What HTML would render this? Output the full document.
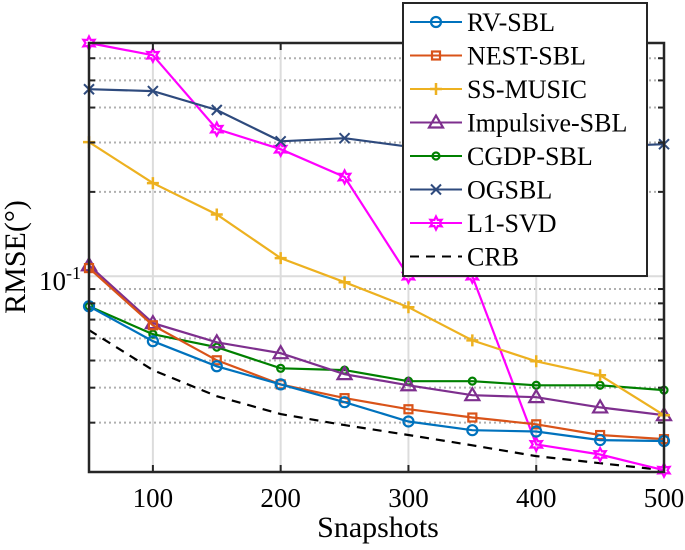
<!DOCTYPE html>
<html><head><meta charset="utf-8"><style>
html,body{margin:0;padding:0;background:#fff;}
svg{display:block;font-family:"Liberation Serif",serif;}
</style></head><body>
<svg id="chart" width="685" height="550" viewBox="0 0 685 550" xmlns="http://www.w3.org/2000/svg">
<g id="grid"></g>
<g id="series"></g>
<g id="axes"></g>
<text x="0" y="0" transform="translate(25,257) rotate(-90)" text-anchor="middle" font-size="30">RMSE(°)</text>
<text x="378" y="537" text-anchor="middle" font-size="30">Snapshots</text>
<g id="legend"></g>
</svg>
<script>
const snapshots=[50,100,150,200,250,300,350,400,450,500];
const rvSbl=[0.0781,0.0586,0.0477,0.0411,0.0355,0.0303,0.0282,0.0279,0.0260,0.0258];
const nestSbl=[0.1069,0.0668,0.0501,0.0411,0.0367,0.0335,0.0313,0.0296,0.0271,0.0262];
const ssMusic=[0.301,0.215,0.166,0.116,0.0952,0.0775,0.059,0.0497,0.0443,0.0319];
const impulsiveSbl=[0.1094,0.068,0.0581,0.0531,0.0447,0.0408,0.0376,0.037,0.034,0.0319];
const cgdpSbl=[0.0781,0.0621,0.0558,0.0469,0.0462,0.0422,0.0422,0.0408,0.0408,0.0392];
const ogsbl=[0.465,0.458,0.392,0.303,0.311,0.29,0.287,0.285,0.29,0.296];
const l1Svd=[0.68,0.615,0.335,0.284,0.226,0.1,0.1,0.0251,0.0231,0.0203];
const crb=[0.0642,0.0462,0.0373,0.0322,0.0294,0.0271,0.0249,0.0228,0.0215,0.0203];
const xTicks=[100,200,300,400,500];
const yMinor=[0.03,0.04,0.05,0.06,0.07,0.08,0.09,0.2,0.3,0.4,0.5,0.6];
const seriesNames=["RV-SBL","NEST-SBL","SS-MUSIC","Impulsive-SBL","CGDP-SBL","OGSBL","L1-SVD","CRB"];

const L=89,R=664,T=43,B=472,YMIN=0.02,YMAX=0.68;
const xs=v=>L+(v-50)/450*(R-L);
const ys=v=>B-(Math.log10(v)-Math.log10(YMIN))/(Math.log10(YMAX)-Math.log10(YMIN))*(B-T);
const NS="http://www.w3.org/2000/svg";
function mk(tag,attrs,parent){const e=document.createElementNS(NS,tag);for(const k in attrs)e.setAttribute(k,attrs[k]);parent.appendChild(e);return e;}
const grid=document.getElementById('grid'),axes=document.getElementById('axes'),ser=document.getElementById('series'),leg=document.getElementById('legend');

yMinor.forEach(v=>{const y=ys(v);
 const g=mk('line',{x1:L,x2:R,y1:y,y2:y,stroke:'#b0b0b0','stroke-width':2,'stroke-dasharray':'2,3'},grid);
 
 
 [[L,L+6],[R,R-6]].forEach(p=>{const t=mk('line',{x1:p[0],x2:p[1],y1:y,y2:y,stroke:'#262626','stroke-width':2},axes);
 
 });
});
{const y=ys(0.1);const g=mk('line',{x1:L,x2:R,y1:y,y2:y,stroke:'#dcdcdc','stroke-width':2},grid);
 
 
 const t=mk('text',{x:81,y:y+14,'text-anchor':'end','font-size':27},axes);t.textContent='10';
 
 
 const ts=mk('tspan',{dy:-11,'font-size':18},t);ts.textContent='-1';}
xTicks.forEach(v=>{const x=xs(v);
 const g=mk('line',{x1:x,x2:x,y1:T,y2:B,stroke:'#dcdcdc','stroke-width':2},grid);
 
 
 [[B,B-7],[T,T+7]].forEach(p=>{const t=mk('line',{x1:x,x2:x,y1:p[0],y2:p[1],stroke:'#262626','stroke-width':2},axes);
 
 });
 const t=mk('text',{x:x,y:507,'text-anchor':'middle','font-size':27},axes);t.textContent=v;
 
 
});
{const r=mk('rect',{x:L,y:T,width:R-L,height:B-T,fill:'none',stroke:'#262626','stroke-width':2.5},axes);
 
 }

function marker(type,x,y,c,g){
 if(type==='circle')return mk('circle',{cx:x,cy:y,r:5,fill:'none',stroke:c,'stroke-width':2.2},g);
 if(type==='square')return mk('rect',{x:x-4,y:y-4,width:8,height:8,fill:'none',stroke:c,'stroke-width':2.2},g);
 if(type==='plus')return mk('path',{d:`M${x-6} ${y}H${x+6}M${x} ${y-6}V${y+6}`,stroke:c,'stroke-width':2.5,fill:'none'},g);
 if(type==='tri')return mk('path',{d:`M${x} ${y-7}L${x+7} ${y+5}L${x-7} ${y+5}Z`,stroke:c,'stroke-width':2.2,fill:'none'},g);
 if(type==='hex')return mk('circle',{cx:x,cy:y,r:3.5,fill:'none',stroke:c,'stroke-width':2.2},g);
 if(type==='x')return mk('path',{d:`M${x-5} ${y-5}L${x+5} ${y+5}M${x-5} ${y+5}L${x+5} ${y-5}`,stroke:c,'stroke-width':2,fill:'none'},g);
 if(type==='star'){let d='';for(let i=0;i<12;i++){const a=Math.PI/6*i-Math.PI/2,rr=i%2?3.5:6.5;d+=(i?'L':'M')+(x+rr*Math.cos(a)).toFixed(1)+' '+(y+rr*Math.sin(a)).toFixed(1);}return mk('path',{d:d+'Z',stroke:c,'stroke-width':2.2,fill:'none'},g);}
 return null;
}
const defs=[
 {n:'rv-sbl',d:rvSbl,c:'#0072BD',m:'circle'},
 {n:'nest-sbl',d:nestSbl,c:'#D95319',m:'square'},
 {n:'ss-music',d:ssMusic,c:'#EDB120',m:'plus'},
 {n:'impulsive-sbl',d:impulsiveSbl,c:'#7E2F8E',m:'tri'},
 {n:'cgdp-sbl',d:cgdpSbl,c:'#008000',m:'hex'},
 {n:'ogsbl',d:ogsbl,c:'#2E4A7D',m:'x'},
 {n:'l1-svd',d:l1Svd,c:'#FF00FF',m:'star'},
 {n:'crb',d:crb,c:'#000000',m:null,dash:'9,7'}
];
defs.slice().reverse().forEach(s=>{
 const g=mk('g',{},ser);
 
 
 const pts=snapshots.map((v,i)=>xs(v).toFixed(1)+','+ys(s.d[i]).toFixed(1)).join(' ');
 const pl=mk('polyline',{points:pts,fill:'none',stroke:s.c,'stroke-width':2.2,'stroke-dasharray':s.dash||'none'},g);
 
 
 if(s.m)snapshots.forEach((v,i)=>{const m=marker(s.m,xs(v),ys(s.d[i]),s.c,g);
  
  });
});
{const r=mk('rect',{x:403,y:3,width:244,height:273,fill:'#fff',stroke:'#262626','stroke-width':2},leg);
 
 }
defs.forEach((s,i)=>{
 const y=22+i*33.5;
 const g=mk('g',{},leg);
 
 
 mk('line',{x1:410,x2:462,y1:y,y2:y,stroke:s.c,'stroke-width':2,'stroke-dasharray':s.dash||'none'},g);
 if(s.m)marker(s.m,436,y,s.c,g);
 const t=mk('text',{x:467,y:y+9,'font-size':26},g);t.textContent=seriesNames[i];
});
</script>
</body></html>
